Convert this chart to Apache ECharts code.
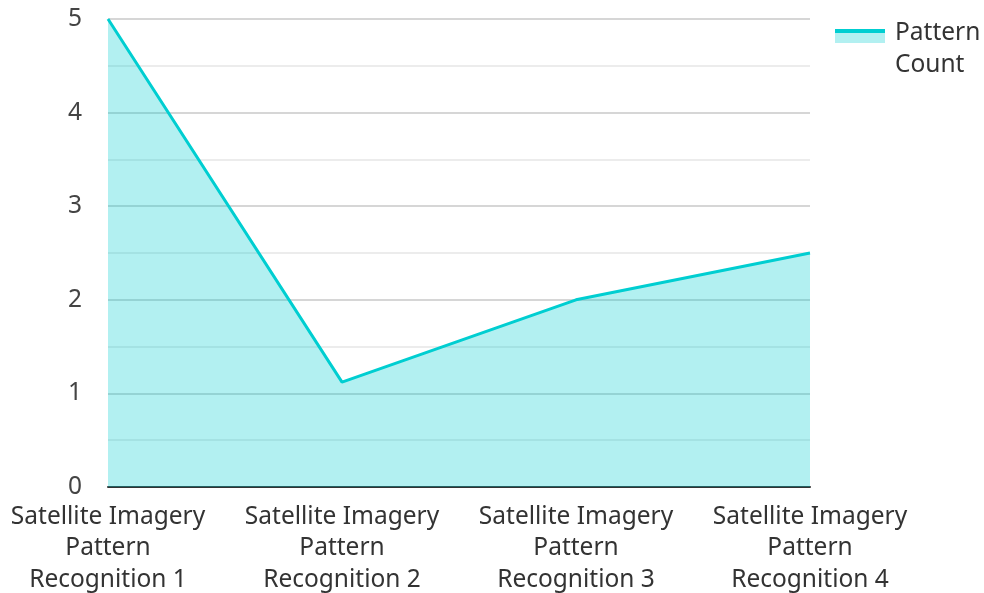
<!DOCTYPE html>
<html>
<head>
<meta charset="utf-8">
<script src="https://cdn.jsdelivr.net/npm/echarts@6/dist/echarts.min.js"></script>
<style>
  html, body { margin: 0; padding: 0; background: #fff; }
  #chart { width: 984px; height: 593px; }
</style>
</head>
<body>
<div id="chart"></div>
<script>
// Category labels along the x axis
const categories = [
  'Satellite Imagery\nPattern\nRecognition 1',
  'Satellite Imagery\nPattern\nRecognition 2',
  'Satellite Imagery\nPattern\nRecognition 3',
  'Satellite Imagery\nPattern\nRecognition 4'
];
// Pattern counts per category
const patternCount = [5, 1.12, 2, 2.5];
const seriesName = 'Pattern Count';

const LINE = '#00CED1';
const AREA = 'rgba(0,206,209,0.3)';
const FONT = 24.5;

const chart = echarts.init(document.getElementById('chart'));
chart.setOption({
  animation: false,
  textStyle: { fontFamily: 'Noto Sans' },
  grid: { left: 108, right: 174, top: 19, bottom: 106, containLabel: false, outerBoundsMode: 'none' },
  xAxis: {
    type: 'category',
    data: categories,
    boundaryGap: false,
    axisTick: { show: false },
    axisLine: { lineStyle: { color: '#333', width: 2 } },
    axisLabel: { interval: 0, fontSize: FONT, color: '#333', lineHeight: 31.5, margin: 14, fontFamily: 'Noto Sans' }
  },
  yAxis: {
    type: 'value',
    min: 0,
    max: 5,
    interval: 1,
    axisLine: { show: false },
    axisTick: { show: false },
    axisLabel: { fontSize: FONT, color: '#444', margin: 26, fontFamily: 'Noto Sans' },
    splitLine: { lineStyle: { color: '#c8c8c8', width: 1.5 } },
    minorTick: { show: false, splitNumber: 2 },
    minorSplitLine: { show: true, lineStyle: { color: '#e6e6e6', width: 1.5 } }
  },
  // Legend key: line stripe over a filled area swatch, with wrapped name
  graphic: [
    { type: 'rect', left: 835, top: 33, shape: { width: 50, height: 10 }, style: { fill: AREA } },
    { type: 'rect', left: 835, top: 29, shape: { width: 50, height: 4 }, style: { fill: LINE } },
    {
      type: 'text', left: 895, top: 17,
      style: { text: 'Pattern\nCount', font: FONT + 'px "Noto Sans"', lineHeight: 32, fill: '#333' }
    }
  ],
  series: [{
    name: seriesName,
    type: 'line',
    data: patternCount,
    symbol: 'none',
    lineStyle: { color: LINE, width: 3 },
    itemStyle: { color: LINE },
    areaStyle: { color: AREA, opacity: 1 }
  }]
});
</script>
</body>
</html>
